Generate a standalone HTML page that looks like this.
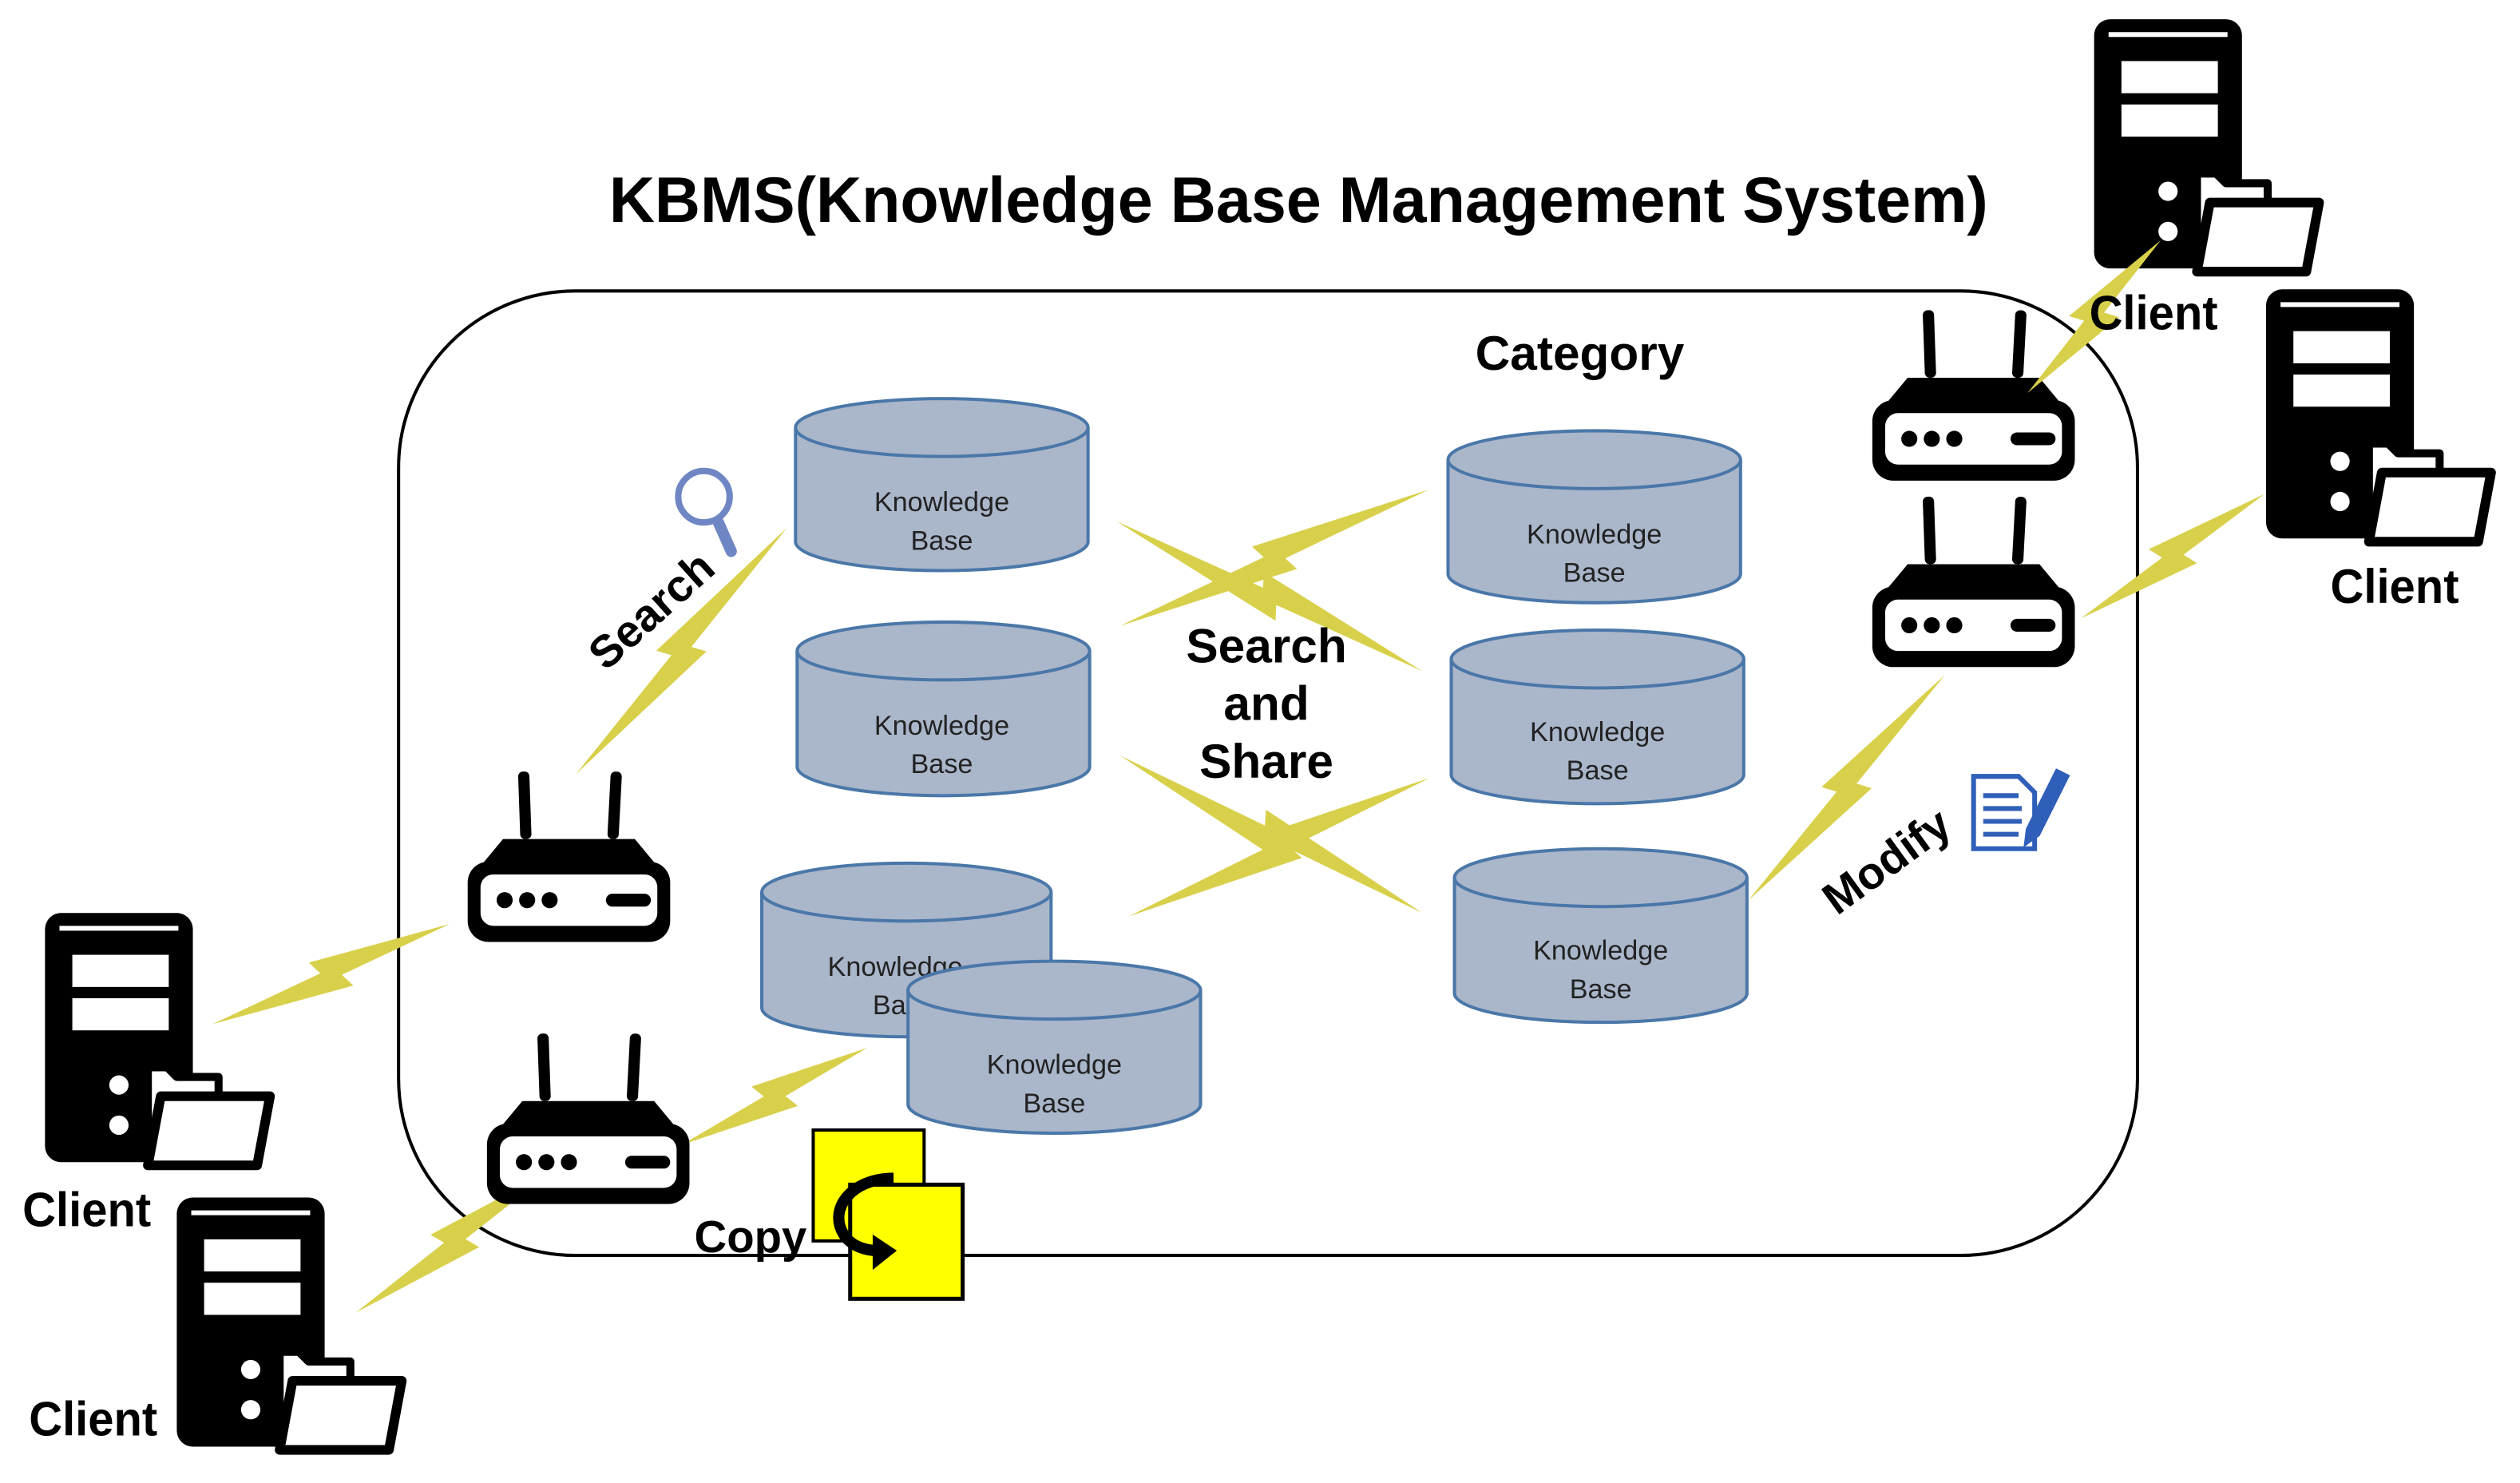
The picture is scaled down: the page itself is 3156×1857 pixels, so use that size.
<!DOCTYPE html>
<html><head><meta charset="utf-8"><style>
html,body{margin:0;padding:0;background:#fff;}
svg{display:block;}
text{font-family:"Liberation Sans",sans-serif;}
</style></head><body>
<svg width="3156" height="1857" viewBox="0 0 1568 922.6" preserveAspectRatio="none" xmlns="http://www.w3.org/2000/svg">
<defs>
<g id="tower">
  <rect x="0" y="0" width="92" height="155" rx="10" fill="#000"/>
  <rect x="9" y="8" width="74" height="3" fill="#fff"/>
  <rect x="17" y="26" width="60" height="20" fill="#fff"/>
  <rect x="17" y="53" width="60" height="20" fill="#fff"/>
  <circle cx="46" cy="107" r="6" fill="#fff"/>
  <circle cx="46" cy="132" r="6" fill="#fff"/>
  <path d="M64,96 L76,96 L82,102 L108,102 L108,156 L64,156 Z" fill="#fff" stroke="#000" stroke-width="5" stroke-linejoin="round"/>
  <path d="M72,114 L140,114 L132,157 L64,157 Z" fill="#fff" stroke="#000" stroke-width="6" stroke-linejoin="round"/>
</g>
<g id="router">
  <rect x="32" y="0" width="7" height="42" rx="3" fill="#000" transform="rotate(-2 35 20)"/>
  <rect x="88" y="0" width="7" height="42" rx="3" fill="#000" transform="rotate(3 91 20)"/>
  <path d="M22,42 L104,42 L124,66 L2,66 Z" fill="#000"/>
  <rect x="0" y="56" width="126" height="50" rx="13" fill="#000"/>
  <rect x="8" y="64" width="110" height="32" rx="8" fill="#fff"/>
  <circle cx="23" cy="80" r="5" fill="#000"/>
  <circle cx="37" cy="80" r="5" fill="#000"/>
  <circle cx="51" cy="80" r="5" fill="#000"/>
  <rect x="86" y="76" width="28" height="8" rx="4" fill="#000"/>
</g>
</defs>

<text x="808" y="138" font-size="40" font-weight="bold" text-anchor="middle" textLength="858" lengthAdjust="spacingAndGlyphs">KBMS(Knowledge Base Management System)</text>

<rect x="248" y="181" width="1082" height="600" rx="110" fill="none" stroke="#000" stroke-width="2"/>

<g fill="#d8d04a">
<g transform="translate(424,405) rotate(-49.4)"><polygon points="-101,0 -6,-3 -10,-12 101,0 6,3 10,12"/></g>
<g transform="translate(790,371) rotate(26.1)"><polygon points="-106,0 -6,-3 -10,-12 106,0 6,3 10,12"/></g>
<g transform="translate(793,347) rotate(-23.8)"><polygon points="-105,0 -6,-3 -10,-12 105,0 6,3 10,12"/></g>
<g transform="translate(791,519) rotate(27.5)"><polygon points="-106,0 -6,-3 -10,-12 106,0 6,3 10,12"/></g>
<g transform="translate(796,527) rotate(-24.7)"><polygon points="-103,0 -6,-3 -10,-12 103,0 6,3 10,12"/></g>
<g transform="translate(206,606) rotate(-22.9)"><polygon points="-80,0 -6,-3 -10,-12 80,0 6,3 10,12"/></g>
<g transform="translate(283,772) rotate(-35.9)"><polygon points="-76,0 -6,-3 -10,-12 76,0 6,3 10,12"/></g>
<g transform="translate(482,682) rotate(-27.6)"><polygon points="-65,0 -6,-3 -10,-12 65,0 6,3 10,12"/></g>
<g transform="translate(1149,490) rotate(-48.9)"><polygon points="-93,0 -6,-3 -10,-12 93,0 6,3 10,12"/></g>
<g transform="translate(1352,346) rotate(-34.1)"><polygon points="-69,0 -6,-3 -10,-12 69,0 6,3 10,12"/></g>
</g>

<g fill="#aab6ca" stroke="#4a77a8" stroke-width="2">
  <path d="M495,266 L495,337 A91,18 0 0 0 677,337 L677,266"/>
  <ellipse cx="586" cy="266" rx="91" ry="18"/>
  <path d="M496,405 L496,477 A91,18 0 0 0 678,477 L678,405"/>
  <ellipse cx="587" cy="405" rx="91" ry="18"/>
  <path d="M474,555 L474,627 A90,18 0 0 0 654,627 L654,555"/>
  <ellipse cx="564" cy="555" rx="90" ry="18"/>
  <path d="M901,286 L901,357 A91,18 0 0 0 1083,357 L1083,286"/>
  <ellipse cx="992" cy="286" rx="91" ry="18"/>
  <path d="M903,410 L903,482 A91,18 0 0 0 1085,482 L1085,410"/>
  <ellipse cx="994" cy="410" rx="91" ry="18"/>
  <path d="M905,546 L905,618 A91,18 0 0 0 1087,618 L1087,546"/>
  <ellipse cx="996" cy="546" rx="91" ry="18"/>
</g>
<g font-size="17" fill="#222" text-anchor="middle">
  <text x="586" y="318">Knowledge</text><text x="586" y="342">Base</text>
  <text x="586" y="457">Knowledge</text><text x="586" y="481">Base</text>
  <text x="992" y="338">Knowledge</text><text x="992" y="362">Base</text>
  <text x="994" y="461">Knowledge</text><text x="994" y="485">Base</text>
  <text x="996" y="597">Knowledge</text><text x="996" y="621">Base</text>
</g>
<text x="515" y="607" font-size="17" fill="#222">Knowledge</text>
<text x="543" y="631" font-size="17" fill="#222">Base</text>
<g fill="#aab6ca" stroke="#4a77a8" stroke-width="2">
  <path d="M565,616 L565,687 A91,18 0 0 0 747,687 L747,616"/>
  <ellipse cx="656" cy="616" rx="91" ry="18"/>
</g>
<text x="656" y="668" font-size="17" fill="#222" text-anchor="middle">Knowledge</text>
<text x="656" y="692" font-size="17" fill="#222" text-anchor="middle">Base</text>

<use href="#router" x="291" y="480"/>
<use href="#router" x="303" y="643"/>
<use href="#router" x="1165" y="193"/>
<use href="#router" x="1165" y="309"/>

<use href="#tower" x="28" y="568"/>
<use href="#tower" x="110" y="745"/>
<use href="#tower" x="1303" y="12"/>
<use href="#tower" x="1410" y="180"/>
<g fill="#d8d04a"><g transform="translate(1303,197) rotate(-48.9)"><polygon points="-63,0 -6,-3 -10,-12 63,0 6,3 10,12"/></g></g>

<g font-size="30" font-weight="bold" fill="#000">
  <text x="14" y="763" textLength="80" lengthAdjust="spacingAndGlyphs">Client</text>
  <text x="18" y="893" textLength="80" lengthAdjust="spacingAndGlyphs">Client</text>
  <text x="1300" y="205" textLength="80" lengthAdjust="spacingAndGlyphs">Client</text>
  <text x="1450" y="375" textLength="80" lengthAdjust="spacingAndGlyphs">Client</text>
  <text x="983" y="230" text-anchor="middle">Category</text>
  <text x="788" y="412" text-anchor="middle">Search</text>
  <text x="788" y="448" text-anchor="middle">and</text>
  <text x="788" y="484" text-anchor="middle">Share</text>
  <text x="432" y="779" font-size="28">Copy</text>
  <text transform="translate(377,418) rotate(-42)" font-size="28">Search</text>
  <text transform="translate(1143,570) rotate(-36)" font-size="28">Modify</text>
</g>

<circle cx="438" cy="309" r="16" fill="none" stroke="#6f86c4" stroke-width="4"/>
<line x1="447" y1="325" x2="455" y2="343" stroke="#6f86c4" stroke-width="7" stroke-linecap="round"/>

<g stroke="#2f5fb8" fill="#fff" stroke-width="3">
  <path d="M1228,483 L1256,483 L1266,493 L1266,528 L1228,528 Z"/>
  <line x1="1234" y1="495" x2="1256" y2="495"/>
  <line x1="1234" y1="503" x2="1258" y2="503"/>
  <line x1="1234" y1="511" x2="1258" y2="511"/>
  <line x1="1234" y1="519" x2="1256" y2="519"/>
  <path d="M1262,516 L1280,480 L1286,483 L1268,519 L1261,524 Z" fill="#2f5fb8"/>
</g>

<rect x="506" y="703" width="69" height="69" fill="#ffff00" stroke="#000" stroke-width="2"/>
<rect x="529" y="737" width="70" height="71" fill="#ffff00" stroke="#000" stroke-width="2.5"/>
<path d="M556,733 C530,733 515,752 525,768 C530,776 540,778 546,778" fill="none" stroke="#000" stroke-width="7"/>
<polygon points="543,768 558,778 543,790" fill="#000"/>
</svg>
</body></html>
